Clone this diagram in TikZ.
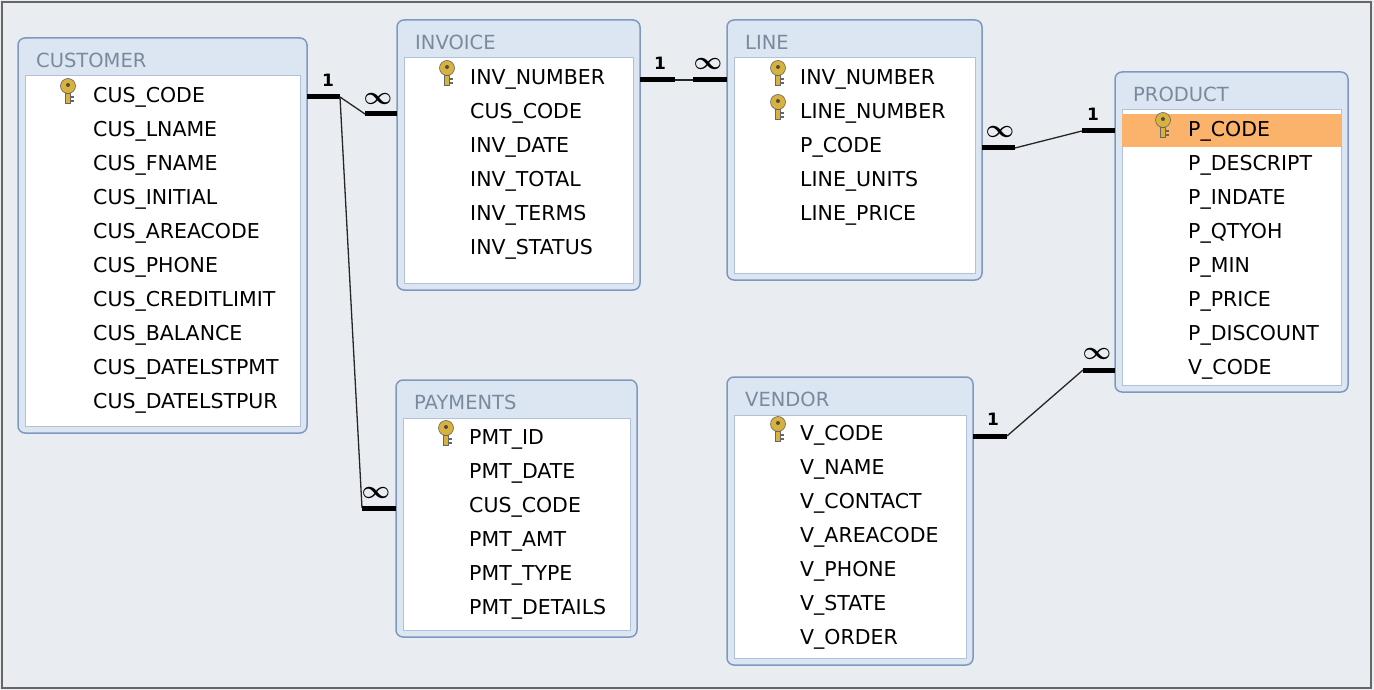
\documentclass[tikz,border=0pt]{standalone}
\usepackage{fontspec}
\setmainfont{DejaVu Sans}
\begin{document}
\begin{tikzpicture}[x=1pt,y=-1pt,
  row/.style={anchor=west,inner sep=0,font=\fontsize{20.5}{20.5}\selectfont,text=black},
  hdr/.style={anchor=west,inner sep=0,font=\fontsize{19.5}{19.5}\selectfont,text=hdrc},
  thick1/.style={line width=5pt,black},
  thin1/.style={line width=1.3pt,black!85},
  card/.style={inner sep=0,font=\bfseries\fontsize{17}{17}\selectfont},
  inf/.style={inner sep=0,font=\fontsize{26}{26}\selectfont\boldmath}]
\definecolor{bg}{HTML}{E9EDF1}
\definecolor{hdrc}{HTML}{7A8A9C}
\definecolor{frame}{HTML}{7E98BE}
\definecolor{hbg}{HTML}{DCE6F2}
\definecolor{sel}{HTML}{FBB36B}
\definecolor{keyc}{HTML}{D8B23C}
\useasboundingbox (0,0) rectangle (1374,690);
\fill[bg] (0,0) rectangle (1374,690);
\draw[gray!80!black,line width=1.5pt] (2,2) rectangle (1371,688);
\newcommand{\mytable}[6]{%
  \fill[hbg,rounded corners=7pt] (#2,#3) rectangle (#4,#5);
  \fill[white] (#2+7,#3+38) rectangle (#4-7,#5-7);
  \draw[frame,line width=1.5pt,rounded corners=7pt] (#2,#3) rectangle (#4,#5);
  \draw[frame!60,line width=1pt] (#2+7,#3+38) rectangle (#4-7,#5-7);
  \node[hdr] (#1-h) at (#2+18,#3+22) {#6};
}
\newcommand{\mykey}[2]{%
  \fill[keyc,draw=black!60,line width=0.6pt] (#1,#2-4) circle (7.5);
  \fill[black!70] (#1,#2-5) circle (2);
  \fill[keyc,draw=black!60,line width=0.6pt] (#1-2.5,#2+3) rectangle (#1+2.5,#2+13);
  \draw[black!60,line width=1.2pt] (#1+2.5,#2+7) -- (#1+6,#2+7) (#1+2.5,#2+11) -- (#1+6,#2+11);
}
\newcommand{\myrows}[4]{%
  \foreach \t [count=\i from 0] in {#4} {
    \node[row] (#3-\i) at (#1,#2+34*\i) {\t};
  }
}
\mytable{cus}{18}{38}{307}{433}{CUSTOMER}
\mykey{68}{90}
\myrows{93}{97}{cusr}{CUS\_CODE,CUS\_LNAME,CUS\_FNAME,CUS\_INITIAL,CUS\_AREACODE,CUS\_PHONE,CUS\_CREDITLIMIT,CUS\_BALANCE,CUS\_DATELSTPMT,CUS\_DATELSTPUR}
\mytable{inv}{397}{20}{640}{290}{INVOICE}
\mykey{447}{72}
\myrows{470}{79}{invr}{INV\_NUMBER,CUS\_CODE,INV\_DATE,INV\_TOTAL,INV\_TERMS,INV\_STATUS}
\mytable{lin}{727}{20}{982}{280}{LINE}
\mykey{778}{72}\mykey{778}{106}
\myrows{800}{79}{linr}{INV\_NUMBER,LINE\_NUMBER,P\_CODE,LINE\_UNITS,LINE\_PRICE}
\mytable{pro}{1115}{72}{1348}{392}{PRODUCT}
\fill[sel] (1122,114) rectangle (1341,147);
\mykey{1163}{124}
\myrows{1188}{131}{pror}{P\_CODE,P\_DESCRIPT,P\_INDATE,P\_QTYOH,P\_MIN,P\_PRICE,P\_DISCOUNT,V\_CODE}
\mytable{pay}{396}{380}{637}{637}{PAYMENTS}
\mykey{446}{432}
\myrows{469}{439}{payr}{PMT\_ID,PMT\_DATE,CUS\_CODE,PMT\_AMT,PMT\_TYPE,PMT\_DETAILS}
\mytable{ven}{727}{377}{973}{665}{VENDOR}
\mykey{778}{428}
\myrows{800}{435}{venr}{V\_CODE,V\_NAME,V\_CONTACT,V\_AREACODE,V\_PHONE,V\_STATE,V\_ORDER}
% connectors
\coordinate (c1) at (340,97); \coordinate (c2) at (365,114);
\draw[thick1] (307,97) -- (c1); \draw[thin1] (c1) -- (c2); \draw[thick1] (c2) -- (397,114);
\node[card] (c1l) at (328,80) {1}; \node[inf] (c2l) at (378,99) {$\infty$};
\coordinate (c3) at (362,508);
\draw[thin1] (c1) -- (c3); \draw[thick1] (c3) -- (396,508);
\node[inf] (c3l) at (376,493) {$\infty$};
\coordinate (c4) at (675,80); \coordinate (c5) at (693,80);
\draw[thick1] (640,80) -- (c4); \draw[thin1] (c4) -- (c5); \draw[thick1] (c5) -- (727,80);
\node[card] (c4l) at (660,63) {1}; \node[inf] (c5l) at (708,64) {$\infty$};
\coordinate (c6) at (1015,148); \coordinate (c7) at (1082,131);
\draw[thick1] (982,148) -- (c6); \draw[thin1] (c6) -- (c7); \draw[thick1] (c7) -- (1115,131);
\node[inf] (c6l) at (1000,132) {$\infty$}; \node[card] (c7l) at (1093,114) {1};
\coordinate (c8) at (1007,436); \coordinate (c9) at (1083,370);
\draw[thick1] (973,436) -- (c8); \draw[thin1] (c8) -- (c9); \draw[thick1] (c9) -- (1115,370);
\node[card] (c8l) at (993,419) {1}; \node[inf] (c9l) at (1097,354) {$\infty$};
\end{tikzpicture}
\end{document}
